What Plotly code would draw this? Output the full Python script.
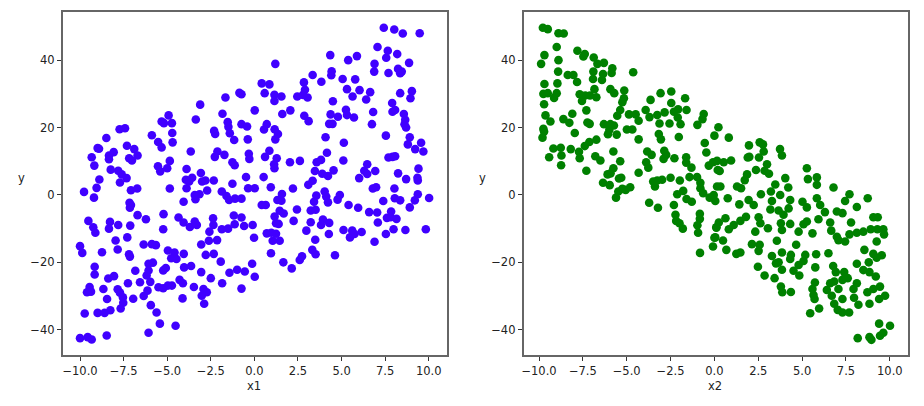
import plotly.graph_objects as go

x1 = [-3.11,-1.66,-0.86,-0.74,-1.83,-3.36,-4.92,-5.32,-5.19,-4.73,-1.53,-1.49,-0.74,-0.42,-2.31,-2.25,-4.71,-1.41,-1.16,-0.38,-5.88,-5.52,-5.32,-4.69,-8.49,-7.73,-7.42,-7.31,-6.89,-6.70,-8.99,-8.91,-8.07,-8.34,-8.34,-9.33,-7.18,-7.02,-9.18,-3.65,-2.12,-2.27,-1.72,-0.32,-0.29,-1.26,-1.13,-4.85,-5.53,-5.00,-5.40,-8.24,-7.81,-7.61,-7.33,-8.89,-7.71,-3.89,-3.07,-3.57,-3.93,-3.74,-3.00,-2.81,-2.33,-0.48,-1.26,
-9.77,-9.05,-9.20,-7.08,-6.72,-4.85,-3.89,-3.42,-3.15,-2.71,-3.38,-4.06,-1.87,-1.60,-1.45,-1.11,-0.74,-0.36,0.02,-7.16,-7.08,-7.14,-6.70,-6.22,-5.21,-4.35,-4.06,-3.70,-3.42,-3.30,-2.37,-2.35,-2.58,-1.87,-1.51,-1.13,-1.18,-0.74,-0.59,-0.10,-9.52,-8.28,-8.34,-7.81,-7.12,-9.24,-9.12,-5.23,-0.02,-7.96,-7.29,-2.14,-2.61,-3.05,-10.00,-9.87,-8.74,-7.84,-6.35,-5.88,-5.65,-4.96,-4.58,-4.77,-4.47,-4.05,-7.19,-7.14,-2.79,-2.33,-1.93,-9.16,-9.16,-6.83,-6.07,-5.82,-5.08,-5.23,-4.03,-3.63,-3.05,-1.43,-0.99,-0.55,-0.13,0.02,-8.38,-8.05,-6.18,-6.07,-7.25,-6.56,-5.97,-2.50,-1.85,-4.29,-4.10,-4.96,-4.73,-5.23,-5.50,-3.47,-9.45,-9.60,-9.37,-8.66,-7.84,-7.71,-6.13,-6.35,-8.45,-6.95,-7.54,-7.52,-7.67,-4.12,-2.92,-2.73,-3.02,-0.74,-5.94,-2.88,-9.73,-8.99,-8.59,-8.26,-5.61,-5.42,-6.07,-4.52,-8.47,-10.00,-9.56,-9.33,
7.42,8.02,8.51,9.48,7.06,7.65,8.19,7.56,4.35,5.88,5.38,1.20,6.89,8.87,6.87,7.69,8.24,8.45,8.36,4.43,4.41,3.34,5.06,5.78,3.84,2.84,0.42,0.86,2.90,5.31,6.03,0.59,1.15,1.55,2.46,2.79,3.05,5.63,6.64,8.36,9.03,8.95,1.15,6.41,4.50,7.90,8.07,7.92,0.02,2.06,1.60,5.25,4.37,4.79,5.31,5.71,6.81,6.74,2.86,3.11,8.57,8.65,8.61,8.70,0.71,0.55,1.16,1.35,1.20,4.29,4.48,4.08,5.13,7.54,8.91,9.56,8.80,9.22,9.69,4.16,0.86,0.61,1.28,1.13,1.15,2.04,2.61,3.82,3.57,5.10,7.69,7.92,8.07,6.47,6.30,6.47,6.93,3.47,3.89,4.22,4.54,6.01,8.24,9.41,8.70,9.35,9.37,0.53,3.34,3.09,
0.94,2.21,6.79,6.98,8.03,4.03,4.12,4.22,3.55,3.42,4.90,4.77,5.40,5.95,9.37,9.20,8.91,10.02,8.05,8.36,7.39,1.58,1.32,1.55,0.42,0.65,2.44,3.23,3.51,1.45,1.68,1.16,1.24,1.39,6.58,7.04,7.84,7.60,7.81,8.15,7.08,2.25,3.23,3.93,3.82,4.29,2.98,4.27,5.11,5.61,6.15,5.74,5.48,7.98,8.66,9.83,7.54,0.71,0.97,1.24,1.05,1.45,3.49,6.89,0.95,3.32,3.51,4.62,2.73,2.60,1.66,2.14]

y1 = [26.8,28.9,30.3,29.9,24.1,22.4,23.6,21.8,21.3,21.3,21.6,20.2,21.0,20.3,19.0,18.1,18.4,18.3,16.3,16.5,17.7,15.7,14.1,15.6,16.9,19.5,19.8,14.6,13.6,11.7,13.9,13.7,12.7,11.7,10.6,11.2,10.9,10.2,8.7,12.9,12.9,11.3,11.9,12.2,10.7,9.7,8.8,10.1,8.5,7.9,7.0,7.5,7.2,6.1,5.0,4.6,3.7,7.7,6.5,5.1,4.5,4.0,4.0,4.3,4.3,5.3,3.3,
0.9,2.1,-0.8,1.4,1.9,1.9,2.0,0.0,0.2,1.3,-1.3,-2.0,1.0,-0.3,-1.5,-1.1,-1.1,2.0,2.0,-2.3,-3.0,-3.8,-6.0,-7.2,-5.7,-6.7,-8.2,-9.5,-7.9,-8.9,-6.9,-8.9,-10.9,-10.2,-10.0,-8.7,-6.1,-6.7,-9.2,-8.9,-7.7,-8.0,-10.0,-8.9,-9.1,-9.6,-11.2,-10.2,-12.7,-13.5,-12.6,-13.4,-13.6,-14.7,-15.2,-17.2,-17.0,-16.2,-14.7,-14.6,-14.9,-16.5,-17.1,-18.8,-19.0,-17.5,-17.6,-18.3,-17.8,-17.5,-19.8,-21.3,-23.6,-22.5,-20.4,-20.1,-21.7,-22.4,-21.5,-21.1,-22.9,-23.1,-22.2,-22.7,-20.4,-24.3,-24.8,-24.1,-23.9,-22.4,-26.2,-25.9,-25.8,-24.7,-26.2,-25.2,-26.2,-26.9,-26.9,-27.7,-27.4,-27.3,-27.3,-28.9,-28.7,-27.9,-28.0,-29.0,-28.4,-30.0,-30.9,-30.8,-30.4,-32.0,-33.7,-30.7,-27.9,-28.9,-29.9,-27.8,-32.7,-32.3,-35.2,-35.0,-35.0,-34.2,-34.9,-38.2,-40.9,-38.8,-41.7,-42.5,-42.2,-42.9,
49.6,49.1,47.9,48.0,43.9,42.8,41.8,40.7,41.5,41.2,40.0,38.9,38.9,39.2,36.6,36.2,37.4,36.6,36.1,36.7,35.5,35.6,34.4,34.3,33.6,33.4,33.1,32.8,31.2,31.4,31.1,30.2,29.7,29.2,29.2,29.7,28.9,29.2,30.5,30.2,30.8,28.7,27.9,28.3,27.8,27.3,25.2,24.7,25.1,25.1,24.0,25.3,23.9,23.2,23.7,23.0,24.6,21.0,23.5,21.9,24.0,22.3,21.0,20.0,21.0,19.4,19.5,18.1,16.5,21.1,21.1,17.1,15.5,17.6,17.1,15.5,15.0,13.6,12.9,12.5,13.1,11.3,10.9,9.1,7.9,9.7,10.1,10.4,9.7,10.2,11.1,11.3,11.5,9.1,7.2,6.2,7.1,7.1,6.3,5.6,7.3,5.0,6.4,7.8,4.7,5.1,4.3,5.3,4.2,3.0,
2.3,1.9,1.9,2.3,1.9,1.0,-0.5,-2.2,-0.2,-2.0,0.0,-1.4,-3.0,-3.8,0.2,-1.6,-3.7,-0.9,-1.0,-1.6,-1.8,0.3,-1.5,-1.7,-3.0,-3.0,-4.3,-4.6,-4.4,-4.7,-5.5,-6.4,-8.4,-8.6,-5.1,-5.2,-4.9,-6.8,-6.6,-7.1,-8.2,-7.7,-8.1,-7.3,-8.9,-8.3,-10.6,-11.6,-10.4,-10.6,-11.0,-11.6,-12.6,-10.2,-10.4,-10.2,-11.6,-11.4,-11.2,-11.5,-13.6,-13.6,-13.3,-13.9,-17.3,-16.3,-17.6,-17.9,-18.2,-19.3,-20.0,-21.8]

x2 = [-9.78,-9.50,-8.89,-8.59,-8.99,-7.81,-7.39,-7.47,-9.69,-8.89,-9.88,-6.88,-6.67,-6.30,-5.82,-8.91,-6.90,-8.36,-8.04,-7.83,-4.63,-5.86,-6.35,-6.41,-6.92,-9.69,-8.95,-9.75,-9.50,-8.99,-9.14,-9.71,-6.84,-5.93,-5.71,-5.14,-7.68,-7.36,-7.09,-6.73,-7.55,-5.16,-5.25,-3.07,-2.46,-3.64,-2.46,-1.67,-7.30,-3.92,-5.37,-5.54,-9.63,-9.35,-8.10,-8.61,-8.27,-7.24,-7.11,-4.87,-4.49,-4.32,-3.70,-3.26,-2.84,-2.31,-2.07,-1.59,-2.09,-1.93,-3.13,-2.56,-0.61,-0.68,-0.97,-6.30,-5.93,-5.73,-5.99,-6.07,-5.57,-4.99,-4.68,-9.75,-9.71,-9.80,-7.96,-3.17,-3.05,-2.03,-4.32,-0.55,0.00,-9.18,-8.76,-8.19,-8.72,-9.42,-8.74,-6.73,-7.13,-7.39,-7.72,-7.68,-6.79,-6.50,-5.76,-5.37,-5.76,-5.92,-6.09,-7.30,-3.83,-3.58,-3.89,-3.77,-2.86,-2.75,-2.90,-2.28,-1.61,-1.61,-1.31,-0.46,-0.32,-4.32,-5.44,-5.31,-6.35,-5.97,-3.49,-3.26,-2.98,-2.50,-1.97,-1.42,-0.99,-0.80,-3.39,-4.80,-5.25,
-5.48,-5.61,-5.06,-3.72,-3.22,-2.31,-2.12,-1.78,-1.59,-1.29,-2.22,-2.18,-1.99,-1.80,-0.83,-0.83,-0.97,-0.93,-0.82,-0.80,-0.64,-0.27,0.11,0.00,-0.08,
0.23,0.82,1.97,2.58,2.77,2.81,1.99,1.90,2.54,3.74,3.85,0.95,0.15,0.53,-0.08,0.19,0.30,3.00,2.37,2.86,3.11,1.86,1.73,1.29,4.04,5.27,5.33,5.84,5.84,3.47,4.21,6.79,0.15,0.34,
-0.04,0.05,0.76,1.42,1.95,2.24,1.52,2.65,3.22,3.28,3.19,3.66,3.75,4.32,4.23,3.94,5.02,5.27,5.84,6.03,6.30,7.70,7.45,8.74,8.12,6.98,7.30,5.93,5.27,5.08,4.32,3.79,3.85,2.52,2.62,3.05,2.33,1.80,1.48,1.10,0.82,0.63,0.25,0.11,0.05,0.49,0.68,1.25,1.48,2.14,2.58,2.52,3.56,3.85,3.28,2.48,2.86,3.51,3.66,3.85,3.43,4.36,4.32,5.18,5.08,4.80,4.51,4.84,5.80,5.75,6.50,5.59,4.80,4.66,6.60,6.66,6.98,7.07,7.45,7.70,7.79,8.12,8.49,8.91,9.29,9.63,9.67,9.06,9.31,9.25,8.55,9.06,9.54,9.25,8.12,8.80,8.49,8.84,9.20,6.77,6.92,7.40,7.60,7.30,8.12,7.93,8.72,9.06,9.44,9.73,9.39,5.73,5.59,5.65,5.71,6.41,6.60,6.83,7.07,6.69,7.30,7.96,8.21,8.84,6.83,7.03,7.30,7.68,5.97,5.46,3.79,3.87,4.36,9.39,10.01,9.63,9.44,8.17,8.84,8.95]

y2 = [49.6,49.2,48.0,47.9,43.9,42.8,41.8,41.1,41.5,40.0,38.9,40.8,38.9,39.2,37.6,36.6,36.6,35.6,35.6,33.5,36.4,36.2,35.9,34.1,34.4,32.9,33.1,30.0,30.2,30.2,28.8,26.9,31.4,31.4,30.2,31.0,29.9,29.5,29.5,29.0,27.9,28.7,27.5,30.2,30.7,28.2,27.3,28.7,25.1,25.2,25.2,23.5,23.6,21.8,24.1,22.5,21.4,21.5,21.1,23.9,23.9,22.0,23.1,23.7,24.5,24.7,25.4,25.2,23.0,21.0,21.2,21.2,24.0,22.5,20.8,21.0,21.0,20.6,19.3,18.0,17.9,19.4,19.4,19.6,18.8,17.0,18.4,18.1,16.5,17.2,16.5,15.4,17.6,13.8,14.0,13.6,11.7,11.2,8.8,16.4,15.7,14.5,12.8,10.9,11.5,10.2,12.9,10.0,7.9,6.4,6.1,7.2,12.9,11.9,9.7,8.1,13.1,11.9,10.7,10.9,11.2,9.6,8.1,12.6,8.7,6.6,4.9,5.1,3.6,2.9,4.0,4.3,4.5,5.1,4.3,5.3,5.3,3.6,2.5,2.3,1.8,
1.0,-0.8,1.5,-2.3,-3.8,-3.0,0.2,1.2,-1.2,-2.0,-5.9,-7.7,-8.4,-10.0,-5.6,-7.1,-9.0,-11.2,-17.2,2.0,0.5,-0.8,-9.6,-12.7,-15.3,
20.1,17.0,14.7,15.6,15.0,12.9,11.3,11.1,11.1,13.6,11.7,10.2,10.1,9.7,9.7,7.4,7.1,9.1,7.4,7.2,6.3,6.1,4.4,2.5,5.0,7.9,4.7,5.2,3.0,3.1,2.2,2.2,2.5,2.5,
0.0,-1.8,-1.0,-2.8,-1.5,-3.0,2.0,0.2,1.0,-1.8,-4.3,-4.6,0.0,-1.5,-4.0,-5.9,-2.0,-3.7,-1.0,-3.0,-5.1,0.2,-1.8,-1.0,-3.6,-4.9,-5.4,-7.2,-7.9,-8.7,-8.6,-8.4,-10.4,-6.6,-8.4,-9.9,-10.9,-6.5,-7.7,-8.9,-10.2,-6.9,-8.2,-9.7,-12.6,-13.5,-16.3,-17.5,-17.1,-14.6,-14.8,-16.6,-13.6,-17.1,-18.1,-21.3,-23.9,-20.3,-20.0,-22.2,-24.7,-17.8,-19.0,-17.8,-19.6,-20.8,-22.5,-23.9,-17.6,-21.5,-17.3,-11.4,-10.9,-14.8,-8.2,-10.6,-12.4,-13.4,-13.8,-11.7,-8.2,-11.2,-10.9,-10.2,-10.2,-10.2,-11.7,-6.6,-6.6,-13.8,-16.3,-17.5,-17.9,-18.6,-20.4,-20.0,-22.3,-22.9,-24.2,-21.1,-22.9,-22.9,-24.7,-25.2,-26.2,-27.9,-28.9,-27.9,-27.2,-29.9,-30.9,-26.0,-27.9,-29.7,-30.9,-28.2,-26.2,-25.7,-27.9,-29.9,-30.9,-30.5,-32.6,-32.3,-32.3,-34.1,-34.9,-34.9,-33.7,-35.1,-27.2,-28.9,-28.8,-38.2,-38.8,-40.9,-41.8,-42.5,-42.2,-43.0]

BLUE = "#4000ff"
GREEN = "#008000"
x_ticks = [-10, -7.5, -5, -2.5, 0, 2.5, 5, 7.5, 10]
y_ticks = [-40, -20, 0, 20, 40]
FONT = dict(family="DejaVu Sans", size=11.5, color="#222222")
W, H = 908, 390

fig = go.Figure()
fig.add_trace(go.Scatter(x=x1, y=y1, mode="markers", xaxis="x", yaxis="y",
                         marker=dict(color=BLUE, size=8.6, line=dict(width=0)), showlegend=False))
fig.add_trace(go.Scatter(x=x2, y=y2, mode="markers", xaxis="x2", yaxis="y2",
                         marker=dict(color=GREEN, size=8.6, line=dict(width=0)), showlegend=False))

axis_style = dict(showgrid=False, zeroline=False, showline=True, mirror=True,
                  linecolor="#666666", linewidth=1.5, ticks="outside", ticklen=4,
                  tickwidth=1, tickcolor="#333333", tickfont=FONT)


def label(text, px, py):
    return dict(text=text, xref="paper", yref="paper", x=px / W, y=1 - py / H,
                xanchor="center", yanchor="middle", showarrow=False, font=FONT)


fig.update_layout(
    width=W, height=H, autosize=False,
    margin=dict(l=0, r=0, t=0, b=0),
    paper_bgcolor="white", plot_bgcolor="white",
    font=FONT,
    xaxis=dict(domain=[0.05804, 0.48205], range=[-11.0, 11.03], tickvals=x_ticks,
               tickformat=".1f", anchor="y", **axis_style),
    yaxis=dict(domain=[0.11026, 0.98897], range=[-47.5, 54.2], tickvals=y_ticks,
               anchor="x", **axis_style),
    xaxis2=dict(domain=[0.56685, 0.99086], range=[-10.88, 11.02], tickvals=x_ticks,
                tickformat=".1f", anchor="y2", **axis_style),
    yaxis2=dict(domain=[0.11026, 0.98897], range=[-47.5, 54.2], tickvals=y_ticks,
                anchor="x2", **axis_style),
    annotations=[label("x1", 245, 378), label("x2", 707, 378),
                 label("y", 12, 170), label("y", 474, 170)],
)
fig.write_html("out.html")
